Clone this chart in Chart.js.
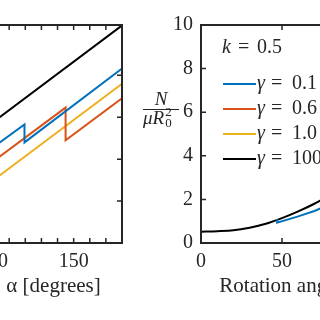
<!DOCTYPE html>
<html>
<head>
<meta charset="utf-8">
<script src="https://cdn.jsdelivr.net/npm/chart.js@4"></script>
<style>
  html, body { margin: 0; padding: 0; background: #fff; width: 320px; height: 320px; overflow: hidden; position: relative; }
  #leftChart { position: absolute; left: -60px; top: 0; }
  #rightChart { position: absolute; left: 140px; top: 0; }
</style>
</head>
<body>
<canvas id="leftChart" width="190" height="320"></canvas>
<canvas id="rightChart" width="360" height="320"></canvas>
<script>
// left panel: alpha [degrees] vs (unlabelled) quantity
const blueLeftX = [95, 119.5, 119.5, 180];
const blueLeftY = [21.4, 28.3, 24.0, 41.6];
const redLeftX = [95, 145, 145, 180];
const redLeftY = [18.0, 32.3, 24.5, 34.5];
const yellowLeftX = [95, 180];
const yellowLeftY = [13.5, 38.0];
const blackLeftX = [95, 180];
const blackLeftY = [27.4, 51.9];

// right panel: rotation angle vs N/(mu R0^2)
const blackRightX = [0, 10, 20, 30, 40, 50, 60, 70, 80];
const blackRightY = [0.52, 0.54, 0.58, 0.7, 0.88, 1.14, 1.45, 1.8, 2.2];
const blueRightX = [47, 47, 60, 70, 80];
const blueRightY = [1.1, 0.93, 1.22, 1.47, 1.78];

const gammaLabels = ['0.1', '0.6', '1.0', '100'];
const kLabel = '0.5';
const colors = ['#0072BD', '#D95319', '#EDB120', '#000000'];
const axisColor = '#262626';
const FONT = '"Liberation Serif", "Times New Roman", serif';

Chart.defaults.font.family = FONT;
Chart.defaults.font.size = 20;
Chart.defaults.color = axisColor;

const pts = (xs, ys) => xs.map((v, i) => ({x: v, y: ys[i]}));

// draws text pieces with mixed italic/size; "at" pins a piece to an offset from the start
function rich(ctx, parts, x, y) {
  const x0 = x;
  parts.forEach(p => {
    const size = p.size || 20;
    ctx.font = (p.it ? 'italic ' : '') + size + 'px ' + FONT;
    if (p.at !== undefined) x = x0 + p.at;
    ctx.fillText(p.t, x, y + (p.dy || 0));
    if (!p.noAdvance) x += ctx.measureText(p.t).width;
  });
  return x;
}

// matlab-like box with inward ticks
const boxTicks = {
  id: 'boxTicks',
  afterDatasetsDraw(chart) {
    const {ctx, chartArea: a, scales: {x, y}} = chart;
    const len = 5;
    ctx.save();
    ctx.strokeStyle = axisColor;
    ctx.lineWidth = 1.5;
    ctx.beginPath();
    x.ticks.forEach(t => {
      const px = x.getPixelForValue(t.value);
      if (px <= a.left + 1 || px >= a.right - 1) return;
      ctx.moveTo(px, a.bottom); ctx.lineTo(px, a.bottom - len);
      ctx.moveTo(px, a.top); ctx.lineTo(px, a.top + len);
    });
    y.ticks.forEach(t => {
      const py = y.getPixelForValue(t.value);
      if (py <= a.top + 1 || py >= a.bottom - 1) return;
      ctx.moveTo(a.left, py); ctx.lineTo(a.left + len, py);
      ctx.moveTo(a.right, py); ctx.lineTo(a.right - len, py);
    });
    ctx.stroke();
    ctx.lineWidth = 2;
    ctx.strokeRect(a.left, a.top, a.right - a.left, a.bottom - a.top);
    ctx.restore();
  }
};

// legend + k text + fraction y label for the right panel
const rightDecor = {
  id: 'rightDecor',
  afterDraw(chart) {
    const {ctx, chartArea: a} = chart;
    ctx.save();
    ctx.fillStyle = axisColor;
    ctx.textBaseline = 'middle';
    ctx.textAlign = 'left';
    rich(ctx, [{t: 'k', it: true}, {t: '=', at: 16}, {t: kLabel, at: 35}], a.left + 21, a.top + 23);
    chart.data.datasets.forEach((ds, i) => {
      const y = a.top + 59 + 25 * i;
      ctx.strokeStyle = ds.borderColor;
      ctx.lineWidth = 2;
      ctx.beginPath();
      ctx.moveTo(a.left + 22, y); ctx.lineTo(a.left + 55, y);
      ctx.stroke();
      const [sym, val] = ds.label.split(' = ');
      rich(ctx, [{t: sym, it: true}, {t: '=', at: 14}, {t: val, at: 35}], a.left + 56, y);
    });
    // N / (mu R0^2)
    ctx.textAlign = 'center';
    rich(ctx, [{t: 'N', it: true, size: 19}], 21, 100);
    ctx.strokeStyle = axisColor;
    ctx.lineWidth = 1;
    ctx.beginPath();
    ctx.moveTo(3, 109.5); ctx.lineTo(39, 109.5);
    ctx.stroke();
    ctx.textAlign = 'left';
    let x = rich(ctx, [{t: 'μR', it: true, size: 19}], 3, 119);
    rich(ctx, [{t: '2', size: 13, dy: -6, noAdvance: true}, {t: '0', size: 13, dy: 5}], x + 1, 119);
    ctx.restore();
  }
};

function scales(o) {
  return {
    x: {
      type: 'linear', min: o.xMin, max: o.xMax,
      grid: {display: false, drawTicks: false},
      border: {display: false},
      ticks: {stepSize: o.xStep, padding: 7, autoSkip: false, maxRotation: 0, minRotation: 0,
        includeBounds: false,
        callback: v => (v % 50 === 0 ? String(v) : '')},
      title: {display: true, text: o.xTitle, font: {size: 21}, padding: {top: 0, bottom: 21}},
      afterFit: s => { s.height = 77; }
    },
    y: {
      type: 'linear', min: o.yMin, max: o.yMax,
      grid: {display: false, drawTicks: false},
      border: {display: false},
      ticks: {stepSize: o.yStep, padding: 8, display: o.yLabels},
      afterFit: s => { s.width = o.yWidth; }
    }
  };
}

new Chart(document.getElementById('leftChart'), {
  type: 'line',
  data: {
    datasets: [
      {data: pts(blueLeftX, blueLeftY), borderColor: colors[0]},
      {data: pts(redLeftX, redLeftY), borderColor: colors[1]},
      {data: pts(yellowLeftX, yellowLeftY), borderColor: colors[2]},
      {data: pts(blackLeftX, blackLeftY), borderColor: colors[3]}
    ]
  },
  options: {
    responsive: false, animation: false,
    layout: {padding: {left: 0, right: 8, top: 25, bottom: 0}},
    elements: {line: {borderWidth: 2, tension: 0}, point: {radius: 0}},
    plugins: {legend: {display: false}, tooltip: {enabled: false}},
    scales: scales({xMin: 95, xMax: 180, xStep: 10, yMin: 0, yMax: 52, yStep: 10,
      yLabels: false, yWidth: 45, xTitle: 'α [degrees]'})
  },
  plugins: [boxTicks]
});

new Chart(document.getElementById('rightChart'), {
  type: 'line',
  data: {
    datasets: [
      {label: 'γ = ' + gammaLabels[0], data: pts(blueRightX, blueRightY), borderColor: colors[0]},
      {label: 'γ = ' + gammaLabels[1], data: [], borderColor: colors[1]},
      {label: 'γ = ' + gammaLabels[2], data: [], borderColor: colors[2]},
      {label: 'γ = ' + gammaLabels[3], data: pts(blackRightX, blackRightY), borderColor: colors[3], cubicInterpolationMode: 'monotone'}
    ]
  },
  options: {
    responsive: false, animation: false,
    layout: {padding: {left: 0, right: 56, top: 25, bottom: 0}},
    elements: {line: {borderWidth: 2, tension: 0}, point: {radius: 0}},
    plugins: {legend: {display: false}, tooltip: {enabled: false}},
    scales: scales({xMin: 0, xMax: 150, xStep: 50, yMin: 0, yMax: 10, yStep: 2,
      yLabels: true, yWidth: 61, xTitle: 'Rotation angle [degrees]'})
  },
  plugins: [boxTicks, rightDecor]
});
</script>
</body>
</html>
